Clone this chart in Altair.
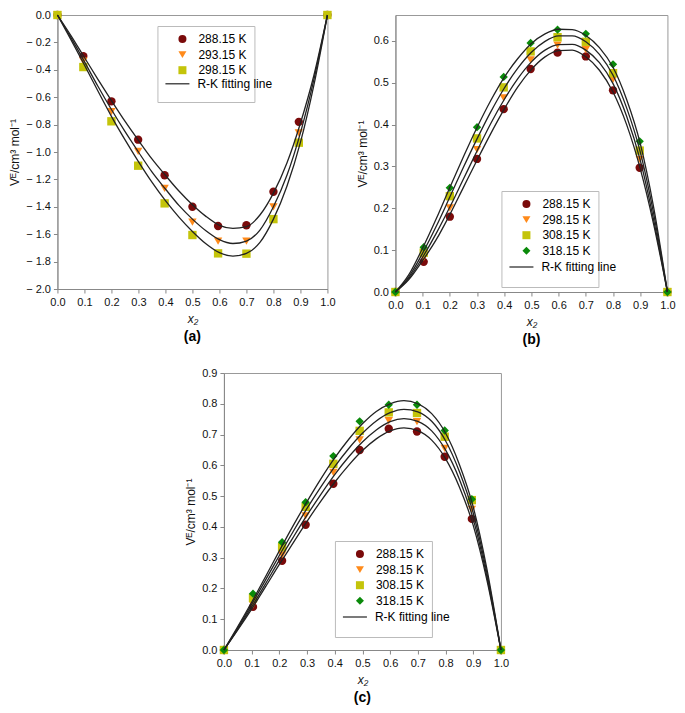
import altair as alt
import pandas as pd

# ---- shared ----
GRID = [0.0, 0.05, 0.1, 0.15, 0.2, 0.25, 0.3, 0.35, 0.4, 0.45, 0.5,
        0.55, 0.6, 0.65, 0.7, 0.75, 0.8, 0.85, 0.9, 0.95, 1.0]
FIT = "R-K fitting line"
MAROON, ORANGE, OLIVE, GREEN = "#7a0a0a", "#ff8a1a", "#c4c40a", "#0a8a0a"

# ---- panel (a) ----
a_series = ["288.15 K", "293.15 K", "298.15 K"]
a_x = [0.0, 0.096, 0.2, 0.299, 0.397, 0.5, 0.595, 0.7, 0.8, 0.894, 1.0]
a_288 = [0.0, -0.30, -0.63, -0.91, -1.17, -1.40, -1.54, -1.535, -1.29, -0.78, 0.0]
a_293 = [0.0, -0.336, -0.706, -0.995, -1.265, -1.511, -1.65, -1.65, -1.40, -0.861, 0.0]
a_298 = [0.0, -0.38, -0.776, -1.10, -1.375, -1.606, -1.74, -1.742, -1.49, -0.932, 0.0]
a_fit_288 = [0.0, -0.15, -0.31, -0.47, -0.625, -0.775, -0.915, -1.05, -1.17, -1.285, -1.385,
             -1.47, -1.535, -1.557, -1.545, -1.46, -1.30, -1.08, -0.79, -0.44, 0.0]
a_fit_293 = [0.0, -0.165, -0.34, -0.52, -0.69, -0.85, -1.0, -1.145, -1.27, -1.39, -1.49,
             -1.575, -1.64, -1.668, -1.65, -1.57, -1.40, -1.17, -0.86, -0.47, 0.0]
a_fit_298 = [0.0, -0.18, -0.365, -0.555, -0.74, -0.91, -1.07, -1.22, -1.355, -1.475, -1.58,
             -1.67, -1.735, -1.76, -1.74, -1.66, -1.49, -1.25, -0.93, -0.51, 0.0]

# ---- panel (b) ----
b_series = ["288.15 K", "298.15 K", "308.15 K", "318.15 K"]
b_x = [0.0, 0.104, 0.2, 0.3, 0.398, 0.497, 0.596, 0.7, 0.8, 0.898, 1.0]
b_288 = [0.0, 0.072, 0.180, 0.318, 0.437, 0.533, 0.572, 0.563, 0.482, 0.297, 0.0]
b_298 = [0.0, 0.082, 0.201, 0.340, 0.464, 0.555, 0.590, 0.579, 0.508, 0.317, 0.0]
b_308 = [0.0, 0.094, 0.229, 0.367, 0.489, 0.575, 0.609, 0.598, 0.523, 0.338, 0.0]
b_318 = [0.0, 0.107, 0.249, 0.394, 0.514, 0.595, 0.627, 0.617, 0.544, 0.360, 0.0]
b_fit_288 = [0.0, 0.03, 0.075, 0.125, 0.185, 0.25, 0.315, 0.378, 0.437, 0.49, 0.532,
             0.562, 0.577, 0.578, 0.562, 0.53, 0.478, 0.40, 0.295, 0.16, 0.0]
b_fit_298 = [0.0, 0.033, 0.083, 0.14, 0.203, 0.27, 0.337, 0.402, 0.46, 0.51, 0.55,
             0.578, 0.591, 0.592, 0.578, 0.548, 0.498, 0.42, 0.315, 0.17, 0.0]
b_fit_308 = [0.0, 0.037, 0.093, 0.157, 0.227, 0.298, 0.366, 0.43, 0.487, 0.535, 0.573,
             0.599, 0.612, 0.612, 0.598, 0.568, 0.518, 0.44, 0.335, 0.185, 0.0]
b_fit_318 = [0.0, 0.042, 0.105, 0.175, 0.25, 0.323, 0.393, 0.457, 0.513, 0.558, 0.594,
             0.617, 0.628, 0.627, 0.613, 0.584, 0.537, 0.46, 0.355, 0.2, 0.0]

# ---- panel (c) ----
c_series = ["288.15 K", "298.15 K", "308.15 K", "318.15 K"]
c_x = [0.0, 0.105, 0.21, 0.295, 0.395, 0.49, 0.595, 0.697, 0.797, 0.895, 1.0]
c_288 = [0.0, 0.14, 0.29, 0.407, 0.540, 0.650, 0.719, 0.710, 0.628, 0.426, 0.0]
c_298 = [0.0, 0.147, 0.309, 0.436, 0.577, 0.683, 0.745, 0.742, 0.655, 0.457, 0.0]
c_308 = [0.0, 0.169, 0.334, 0.465, 0.605, 0.712, 0.772, 0.770, 0.693, 0.487, 0.0]
c_318 = [0.0, 0.183, 0.350, 0.480, 0.630, 0.743, 0.797, 0.797, 0.713, 0.490, 0.0]
c_fit_288 = [0.0, 0.065, 0.133, 0.205, 0.278, 0.348, 0.418, 0.484, 0.545, 0.6, 0.648,
             0.686, 0.712, 0.722, 0.713, 0.682, 0.622, 0.53, 0.405, 0.225, 0.0]
c_fit_298 = [0.0, 0.068, 0.14, 0.215, 0.292, 0.366, 0.438, 0.506, 0.57, 0.627, 0.676,
             0.715, 0.742, 0.752, 0.743, 0.712, 0.65, 0.555, 0.425, 0.235, 0.0]
c_fit_308 = [0.0, 0.072, 0.148, 0.227, 0.307, 0.385, 0.46, 0.53, 0.596, 0.654, 0.704,
             0.744, 0.771, 0.782, 0.774, 0.743, 0.68, 0.58, 0.445, 0.247, 0.0]
c_fit_318 = [0.0, 0.076, 0.155, 0.238, 0.322, 0.404, 0.482, 0.556, 0.624, 0.684, 0.735,
             0.775, 0.8, 0.81, 0.8, 0.768, 0.705, 0.603, 0.465, 0.26, 0.0]

X_TICKS = [0.0, 0.1, 0.2, 0.3, 0.4, 0.5, 0.6, 0.7, 0.8, 0.9, 1.0]
Y_TITLE = "V\u1d31/cm\u00b3 mol\u207b\u00b9"
ROW_GAP = 1.6


def build_points(xs, series, values):
    rows = []
    for i, (name, vals) in enumerate(zip(series, values)):
        for x, v in zip(xs, vals):
            rows.append({"x": x, "v": v, "series": name, "order": i})
    return pd.DataFrame(rows)


def build_fits(series, fits):
    rows = []
    for name, vals in zip(series, fits):
        for x, v in zip(GRID, vals):
            rows.append({"x": x, "v": v, "curve": name, "fit": FIT})
    return pd.DataFrame(rows)


def panel(points, fits, series, colors, shapes, y_domain, y_ticks, lx, ly,
          label, width, height, fit_dy, gap, minus_space=False):
    col_scale = alt.Scale(domain=series, range=colors)
    shp_scale = alt.Scale(domain=series, range=shapes)
    # framed legend for the markers; a blank bottom title leaves room for the fit row
    pt_leg = alt.Legend(
        title="\u2003" * 8 + "\u2002", titleOrient="bottom", titleColor="white",
        titleFontSize=12, titleFontWeight="normal", titlePadding=gap,
        orient="none", legendX=lx, legendY=ly,
        fillColor="white", strokeColor="#bbbbbb", padding=7,
        labelFontSize=12, labelFont="Liberation Sans", labelLimit=200,
        rowPadding=ROW_GAP, symbolOffset=12, labelOffset=10, symbolSize=64,
    )
    fit_leg = alt.Legend(
        title=None, orient="none", legendX=lx + 7, legendY=ly + fit_dy,
        padding=0, symbolType="stroke", symbolSize=576, symbolStrokeWidth=1.2,
        labelFontSize=12, labelFont="Liberation Sans", labelLimit=200, labelOffset=7,
    )
    if minus_space:
        ylab = "datum.value < 0 ? '\u2212 ' + format(-datum.value, '.1f') : format(datum.value, '.1f')"
    else:
        ylab = "format(datum.value, '.1f')"
    x_enc = alt.X("x:Q", scale=alt.Scale(domain=[0, 1], nice=False),
                  axis=alt.Axis(values=X_TICKS, format=".1f", title="x\u2082",
                                titleFontStyle="italic", titleFontWeight="normal"))
    y_enc = alt.Y("v:Q", scale=alt.Scale(domain=y_domain, nice=False),
                  axis=alt.Axis(values=y_ticks, labelExpr=ylab, title=Y_TITLE,
                                titleFontWeight="normal", titlePadding=4))
    pts = alt.Chart(points).mark_point(filled=True, opacity=1, size=70).encode(
        x=x_enc, y=y_enc,
        fill=alt.Fill("series:N", scale=col_scale, legend=pt_leg),
        shape=alt.Shape("series:N", scale=shp_scale, legend=pt_leg),
        order=alt.Order("order:Q"),
    )
    lines = alt.Chart(fits).mark_line(interpolate="monotone", strokeWidth=1.3).encode(
        x=x_enc, y=y_enc,
        stroke=alt.Stroke("fit:N", scale=alt.Scale(domain=[FIT], range=["#222222"]),
                          legend=fit_leg),
        detail="curve:N",
    )
    return alt.layer(pts, lines).properties(
        width=width, height=height,
        title=alt.TitleParams(label, orient="bottom", fontWeight="bold",
                              fontSize=14, offset=6, font="Liberation Sans"),
    )


a_pts = build_points(a_x, a_series, [a_288, a_293, a_298])
b_pts = build_points(b_x, b_series, [b_288, b_298, b_308, b_318])
c_pts = build_points(c_x, c_series, [c_288, c_298, c_308, c_318])

a_fit = build_fits(a_series, [a_fit_288, a_fit_293, a_fit_298])
b_fit = build_fits(b_series, [b_fit_288, b_fit_298, b_fit_308, b_fit_318])
c_fit = build_fits(c_series, [c_fit_288, c_fit_298, c_fit_308, c_fit_318])

chart_a = panel(a_pts, a_fit, a_series, [MAROON, ORANGE, OLIVE],
                ["circle", "triangle-down", "square"], [-2.0, 0.0],
                [-2.0, -1.8, -1.6, -1.4, -1.2, -1.0, -0.8, -0.6, -0.4, -0.2, 0.0],
                100, 11, "(a)", 270, 274, 44.8, 7, minus_space=True)
chart_b = panel(b_pts, b_fit, b_series, [MAROON, ORANGE, OLIVE, GREEN],
                ["circle", "triangle-down", "square", "diamond"], [0.0, 0.662],
                [0.0, 0.1, 0.2, 0.3, 0.4, 0.5, 0.6], 106, 176, "(b)", 272, 277, 63, 11)
chart_c = panel(c_pts, c_fit, c_series, [MAROON, ORANGE, OLIVE, GREEN],
                ["circle", "triangle-down", "square", "diamond"], [0.0, 0.9],
                [0.0, 0.1, 0.2, 0.3, 0.4, 0.5, 0.6, 0.7, 0.8, 0.9], 111, 168, "(c)", 277, 277,
                63, 11)

top = alt.hconcat(chart_a, chart_b, spacing=19).resolve_scale(
    fill="independent", stroke="independent", shape="independent")
chart = alt.vconcat(top, chart_c, center=True, spacing=18).resolve_scale(
    fill="independent", stroke="independent", shape="independent"
).properties(
    padding={"left": 0, "top": 0, "right": 0, "bottom": 0},
).configure_view(
    stroke="#999999",
).configure_axis(
    grid=False, domainColor="#888888", tickColor="#888888", tickSize=4,
    labelFont="Liberation Sans", labelFontSize=11, labelColor="#111111",
    titleFont="Liberation Sans", titleFontSize=12, titleColor="#111111",
    labelPadding=3, titlePadding=6, labelOverlap=False, labelFlush=False,
)

chart.save("out.html", embed_options={"renderer": "svg", "actions": False})
